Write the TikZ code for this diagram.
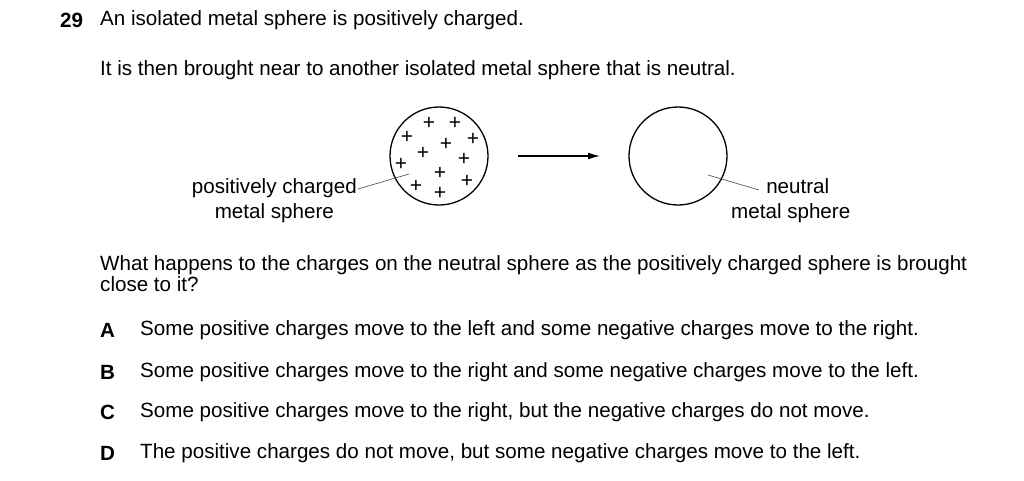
\documentclass[tikz,border=0pt]{standalone}
\usepackage{fontspec}
\usetikzlibrary{arrows.meta}
\setmainfont{Liberation Sans}
\begin{document}
\begin{tikzpicture}[x=1pt,y=-1pt,
  txt/.style={anchor=west,inner sep=0pt,font=\fontsize{20.6}{22}\selectfont},
  lbl/.style={inner sep=0pt,align=center,font=\fontsize{20.6}{25}\selectfont},
  pl/.style={inner sep=0pt,font=\fontsize{21}{21}\selectfont}]
\useasboundingbox (0,0) rectangle (1024,480);
\node[txt,font=\fontsize{20.6}{22}\selectfont\bfseries] (n) at (60,20) {29};
\node[txt] (q1) at (100,20) {An isolated metal sphere is positively charged.};
\node[txt] (q2) at (100,70) {It is then brought near to another isolated metal sphere that is neutral.};
\draw[line width=1.3pt] (439,156) circle (49);
\draw[line width=1.3pt] (678,156) circle (49);
\foreach \p in {(429,123),(455,123),(407,137),(446,144),(473,139),(423,153),(464,159),(401,164),(440,173),(416,186),(467,181),(440,193)}
  \node[pl] at \p {+};
\coordinate (as) at (518,156); \coordinate (ae) at (600,156);
\draw[line width=1.3pt,-{Latex[length=12pt,width=7pt]}] (as) -- (ae);
\node[lbl,anchor=east] (l1) at (357,201) {positively charged\\metal sphere};
\node[lbl,anchor=west] (l2) at (731,201) {\hspace*{14pt}neutral\\metal sphere};
\coordinate (p1) at (409,174); \coordinate (p2) at (708,175);
\coordinate (e1) at (358,189); \coordinate (e2) at (759,190);
\draw[gray!70!black,line width=0.7pt] (e1) -- (p1);
\draw[gray!70!black,line width=0.7pt] (e2) -- (p2);
\node[txt] (w1) at (100,265) {What happens to the charges on the neutral sphere as the positively charged sphere is brought};
\node[txt] (w2) at (100,284) {close to it?};
\foreach \y/\L/\T in {330/A/Some positive charges move to the left and some negative charges move to the right.,
 372/B/Some positive charges move to the right and some negative charges move to the left.,
 412/C/{Some positive charges move to the right, but the negative charges do not move.},
 453/D/{The positive charges do not move, but some negative charges move to the left.}}{
  \node[txt,font=\fontsize{20.6}{22}\selectfont\bfseries] (L\L) at (100,\y) {\L};
  \node[txt] (T\L) at (140,\y) {\T};
}
\end{tikzpicture}
\end{document}
